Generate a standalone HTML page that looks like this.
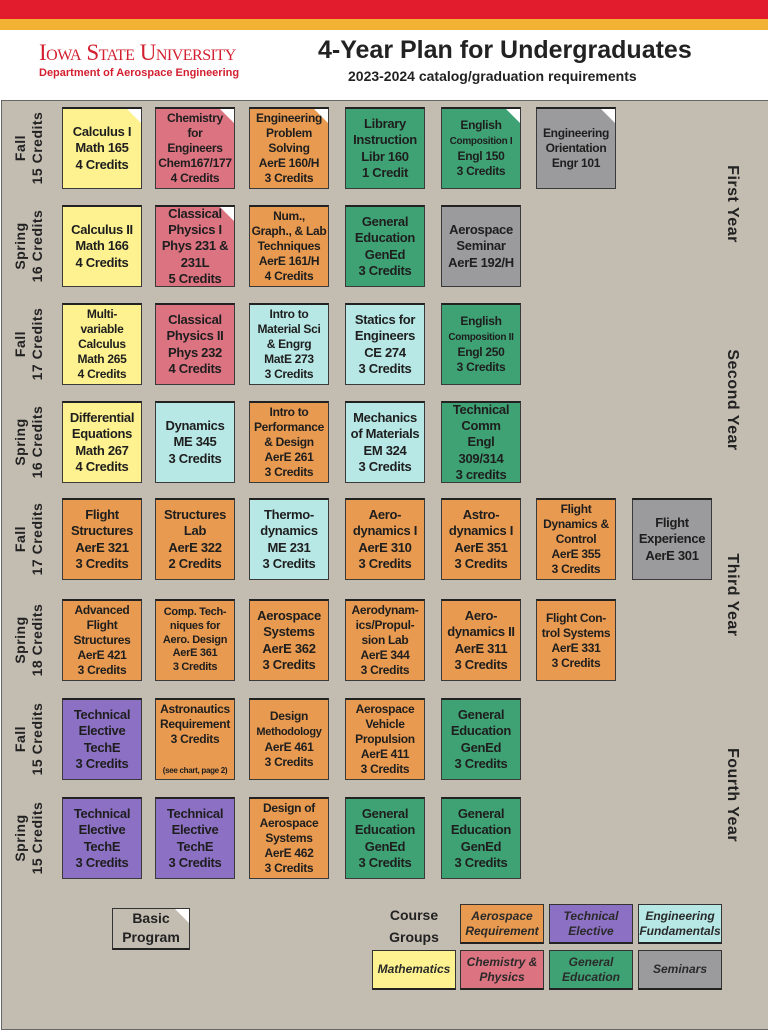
<!DOCTYPE html>
<html><head><meta charset="utf-8"><style>
body{margin:0;width:768px;height:1024px;position:relative;overflow:hidden;background:#fff;font-family:"Liberation Sans",sans-serif}
.abs{position:absolute}
.box{position:absolute;width:80px;height:82px;border:1px solid #3a3a3a;border-top:2px solid #222;box-sizing:border-box;display:flex;align-items:center;justify-content:center;text-align:center;font-weight:bold;color:#1e1e1e;line-height:1.25;letter-spacing:-0.3px;overflow:hidden}
.corner{position:absolute;right:0;top:0;width:0;height:0;border-left:14px solid transparent;border-top:14px solid #fff}
.rowlab{position:absolute;width:90px;height:40px;transform:rotate(-90deg);text-align:center;font-weight:bold;font-size:14px;color:#222;line-height:17px;letter-spacing:0.5px}
.year{position:absolute;transform:rotate(90deg);font-weight:bold;font-size:16px;color:#222;white-space:nowrap;width:140px;text-align:center;letter-spacing:0.5px}
.leg{position:absolute;height:40px;width:84px;border:1px solid #333;border-bottom:2px solid #222;box-sizing:border-box;display:flex;align-items:center;justify-content:center;text-align:center;font-weight:bold;font-style:italic;font-size:12px;color:#2a2a2a;line-height:1.2}
</style></head><body>
<div class="abs" style="left:0;top:0;width:768px;height:19px;background:#e31c2d"></div>
<div class="abs" style="left:0;top:19px;width:768px;height:11px;background:#f2b233"></div>
<div class="abs" style="left:39px;top:40px;font-family:'Liberation Serif',serif;font-size:23px;color:#d31f2f;letter-spacing:-0.5px;font-variant:small-caps">Iowa State University</div>
<div class="abs" style="left:39px;top:67px;font-size:11px;font-weight:bold;color:#d31f2f">Department of Aerospace Engineering</div>
<div class="abs" style="left:318px;top:36px;font-size:25px;font-weight:bold;color:#222">4-Year Plan for Undergraduates</div>
<div class="abs" style="left:348px;top:68px;font-size:14px;font-weight:bold;color:#222">2023-2024 catalog/graduation requirements</div>
<div class="abs" style="left:1px;top:100px;width:770px;height:930px;background:#c3bcb1;border:1px solid #666;box-sizing:border-box"></div>
<div id="grid"></div>
<div class="abs" style="left:112px;top:908px;width:78px;height:42px;border:1px solid #333;border-bottom:2px solid #222;box-sizing:border-box;background:#c3bcb1;text-align:center;font-weight:bold;font-size:14px;line-height:19px;color:#222">Basic<br>Program<div class="corner" style="border-top-color:#fff"></div></div>
<div class="abs" style="left:383px;top:904px;width:62px;text-align:center;font-weight:bold;font-size:14px;line-height:22px;color:#222">Course<br>Groups</div>
<div class="leg" style="left:460px;top:904px;background:#e89a50">Aerospace<br>Requirement</div>
<div class="leg" style="left:549px;top:904px;background:#8c70c4">Technical<br>Elective</div>
<div class="leg" style="left:638px;top:904px;background:#b7e8e6">Engineering<br>Fundamentals</div>
<div class="leg" style="left:372px;top:950px;background:#fdf28f">Mathematics</div>
<div class="leg" style="left:460px;top:950px;background:#dc7381">Chemistry &amp;<br>Physics</div>
<div class="leg" style="left:549px;top:950px;background:#3fa274">General<br>Education</div>
<div class="leg" style="left:638px;top:950px;background:#9b9a9c">Seminars</div>
<script>
const C={Y:'#fdf28f',P:'#dc7381',O:'#e89a50',G:'#3fa274',B:'#b7e8e6',S:'#9b9a9c',V:'#8c70c4'};
const colX=[62,155,249,345,441,536,632];
const rowY=[107,205,303,401,498,599,698,797];
const rowLabels=[['Fall','15 Credits'],['Spring','16 Credits'],['Fall','17 Credits'],['Spring','16 Credits'],['Fall','17 Credits'],['Spring','18 Credits'],['Fall','15 Credits'],['Spring','15 Credits']];
const courses=[
[['Y','Calculus I|Math 165|4 Credits',13,1],['P','Chemistry|for|Engineers|Chem167/177|4 Credits',12,1],['O','Engineering|Problem|Solving|AerE 160/H|3 Credits',12,1],['G','Library|Instruction|Libr 160|1 Credit',13,0],['G','English|<span style="font-size:10px">Composition I</span>|Engl 150|3 Credits',12,1],['S','Engineering|Orientation|Engr 101',12,1]],
[['Y','Calculus II|Math 166|4 Credits',13,0],['P','Classical|Physics I|Phys 231 &amp;|231L|5 Credits',13,1],['O','Num.,|Graph., &amp; Lab|Techniques|AerE 161/H|4 Credits',12,0],['G','General|Education|GenEd|3 Credits',13,0],['S','Aerospace|Seminar|AerE 192/H',13,0]],
[['Y','Multi-|variable|Calculus|Math 265|4 Credits',12,0],['P','Classical|Physics II|Phys 232|4 Credits',13,0],['B','Intro to|Material Sci|&amp; Engrg|MatE 273|3 Credits',12,0],['B','Statics for|Engineers|CE 274|3 Credits',13,0],['G','English|<span style="font-size:10px">Composition II</span>|Engl 250|3 Credits',12,0]],
[['Y','Differential|Equations|Math 267|4 Credits',13,0],['B','Dynamics|ME 345|3 Credits',13,0],['O','Intro to|Performance|&amp; Design|AerE 261|3 Credits',12,0],['B','Mechanics|of Materials|EM 324|3 Credits',13,0],['G','Technical|Comm|Engl|309/314|3 credits',13,0]],
[['O','Flight|Structures|AerE 321|3 Credits',13,0],['O','Structures|Lab|AerE 322|2 Credits',13,0],['B','Thermo-|dynamics|ME 231|3 Credits',13,0],['O','Aero-|dynamics I|AerE 310|3 Credits',13,0],['O','Astro-|dynamics I|AerE 351|3 Credits',13,0],['O','Flight|Dynamics &amp;|Control|AerE 355|3 Credits',12,0],['S','Flight|Experience|AerE 301',13,0]],
[['O','Advanced|Flight|Structures|AerE 421|3 Credits',12,0],['O','Comp. Tech-|niques for|Aero. Design|AerE 361|3 Credits',11,0],['O','Aerospace|Systems|AerE 362|3 Credits',13,0],['O','Aerodynam-|ics/Propul-|sion Lab|AerE 344|3 Credits',12,0],['O','Aero-|dynamics II|AerE 311|3 Credits',13,0],['O','Flight Con-|trol Systems|AerE 331|3 Credits',12,0]],
[['V','Technical|Elective|TechE|3 Credits',13,0],['O','Astronautics|Requirement|3 Credits||<span style="font-size:8px">(see chart, page 2)</span>',12,0],['O','Design|<span style="font-size:11px">Methodology</span>|AerE 461|3 Credits',12,0],['O','Aerospace|Vehicle|Propulsion|AerE 411|3 Credits',12,0],['G','General|Education|GenEd|3 Credits',13,0]],
[['V','Technical|Elective|TechE|3 Credits',13,0],['V','Technical|Elective|TechE|3 Credits',13,0],['O','Design of|Aerospace|Systems|AerE 462|3 Credits',12,0],['G','General|Education|GenEd|3 Credits',13,0],['G','General|Education|GenEd|3 Credits',13,0]]
];
const years=['First Year','Second Year','Third Year','Fourth Year'];
const g=document.getElementById('grid');
courses.forEach((row,r)=>{
  row.forEach((c,i)=>{
    const d=document.createElement('div');
    d.className='box';
    
    
    d.style.left=colX[i]+'px';d.style.top=rowY[r]+'px';
    d.style.background=C[c[0]];d.style.fontSize=c[2]+'px';
    d.innerHTML='<div>'+c[1].split('|').join('<br>')+'</div>'+(c[3]?'<div class="corner"></div>':'');
    g.appendChild(d);
  });
  const l=document.createElement('div');
  l.className='rowlab';
  
  
  l.style.left=(-13)+'px';l.style.top=(rowY[r]+21)+'px';
  l.innerHTML=rowLabels[r][0]+'<br>'+rowLabels[r][1];
  g.appendChild(l);
});
years.forEach((y,k)=>{
  const e=document.createElement('div');
  e.className='year';
  
  
  e.style.left='662px';e.style.top=(rowY[2*k]+88)+'px';
  e.textContent=y;
  g.appendChild(e);
});
</script>
</body></html>
